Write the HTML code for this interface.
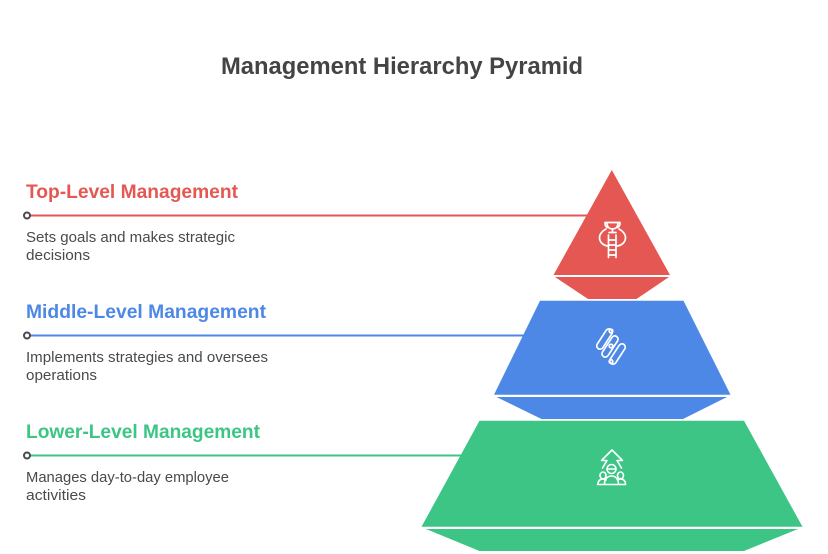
<!DOCTYPE html>
<html><head><meta charset="utf-8"><style>
html,body{margin:0;padding:0;background:#fff}
svg{display:block}
text{font-family:"Liberation Sans",sans-serif}
.h{font-weight:700;font-size:19.5px}
.b{font-size:14.5px;fill:#4a4a4a}
</style></head><body>
<svg width="828" height="554" viewBox="0 0 828 554" xmlns="http://www.w3.org/2000/svg">
<rect width="828" height="554" fill="#fff"/>
<text x="221" y="74" font-size="24" font-weight="700" fill="#444" textLength="362" lengthAdjust="spacingAndGlyphs">Management Hierarchy Pyramid</text>

<line x1="27" y1="215.5" x2="587" y2="215.5" stroke="#e55753" stroke-width="2"/>
<line x1="27" y1="335.5" x2="524" y2="335.5" stroke="#4e88e7" stroke-width="2"/>
<line x1="27" y1="455.5" x2="461" y2="455.5" stroke="#3dc585" stroke-width="2"/>
<g fill="#fff" stroke="#4a4a4a" stroke-width="2">
<circle cx="27" cy="215.5" r="3"/><circle cx="27" cy="335.5" r="3"/><circle cx="27" cy="455.5" r="3"/>
</g>

<text class="h" x="26" y="198" fill="#e55753" textLength="212" lengthAdjust="spacingAndGlyphs">Top-Level Management</text>
<text class="b" x="26" y="242" textLength="209" lengthAdjust="spacingAndGlyphs">Sets goals and makes strategic</text>
<text class="b" x="26" y="260" textLength="64" lengthAdjust="spacingAndGlyphs">decisions</text>

<text class="h" x="26" y="318" fill="#4e88e7" textLength="240" lengthAdjust="spacingAndGlyphs">Middle-Level Management</text>
<text class="b" x="26" y="362" textLength="242" lengthAdjust="spacingAndGlyphs">Implements strategies and oversees</text>
<text class="b" x="26" y="380" textLength="71" lengthAdjust="spacingAndGlyphs">operations</text>

<text class="h" x="26" y="438" fill="#3dc585" textLength="234" lengthAdjust="spacingAndGlyphs">Lower-Level Management</text>
<text class="b" x="26" y="482" textLength="203" lengthAdjust="spacingAndGlyphs">Manages day-to-day employee</text>
<text class="b" x="26" y="500" textLength="60" lengthAdjust="spacingAndGlyphs">activities</text>

<polygon points="611.8,170 670,275 553.5,275" fill="#e55753"/>
<polygon points="555,277 669,277 636.5,299 588,299" fill="#e55753"/>
<polygon points="540,300.7 683.5,300.7 730.5,394.7 494,394.7" fill="#4e88e7"/>
<polygon points="496.500,397 727,397 683,419 541.500,419" fill="#4e88e7"/>
<polygon points="479.500,420.700 744,420.700 802.500,526.800 421.500,526.800" fill="#3dc585"/>
<polygon points="426,529 798,529 744,551 479.500,551" fill="#3dc585"/>

<!-- trophy and ladder -->
<g fill="none" stroke="#fff" stroke-width="1.7" stroke-linejoin="round" stroke-linecap="round">
<path d="M605 222.500h15M607 222.500c0 4 2 6.500 5.500 6.500s5.500-2.500 5.500-6.500M605 222.500c0 3 1 5 3.500 5M620 222.500c0 3-1 5-3.500 5M612.500 229v3M609 232.500h7"/>
<path d="M606 229c-4 2-6.500 5.500-6.500 8.500 0 5 4 8 8.500 8.500M619 229c4 2 6.500 5.500 6.500 8.500 0 5-4 8-8.500 8.500"/>
<path d="M608.500 235v22.500M616 235v22.500M608.500 240h7.500M608.500 245h7.500M608.500 250h7.500M608.500 255h7.500"/>
</g>

<!-- interlocking capsules -->
<g fill="none" stroke="#fff" stroke-width="1.7">
<rect x="601.200" y="327.500" width="6.600" height="23" rx="3.300" transform="rotate(33 604.500 339)"/>
<rect x="606.700" y="334.500" width="6.600" height="24" rx="3.300" transform="rotate(33 610 346.500)"/>
<rect x="614.200" y="342.500" width="6.600" height="23" rx="3.300" transform="rotate(33 617.500 354)"/>
<circle cx="611" cy="331" r="1.800"/>
<circle cx="611" cy="346" r="1.800"/>
<circle cx="611" cy="361.500" r="1.800"/>
</g>

<!-- arrow and people -->
<g fill="none" stroke="#fff" stroke-width="1.6" stroke-linejoin="round" stroke-linecap="round">
<path d="M602.500 468l4.500-7.500h-5.500l10.500-10.500 10.500 10.500h-5.500l4.500 7.500"/>
<circle cx="611.500" cy="469" r="4.500"/><path d="M607.500 469h8"/>
<ellipse cx="603" cy="475.500" rx="3" ry="3.500"/><ellipse cx="620.500" cy="475.500" rx="3" ry="3.500"/>
<path d="M598 484c0-3 2-5 5-5 1 0 2 .3 3 1M625.500 484c0-3-2-5-5-5-1 0-2 .3-3 1"/>
<path d="M604.500 484c0-5 3-8 7-8s7 3 7 8"/>
<path d="M597.500 484.500h28"/>
</g>
</svg>
</body></html>
